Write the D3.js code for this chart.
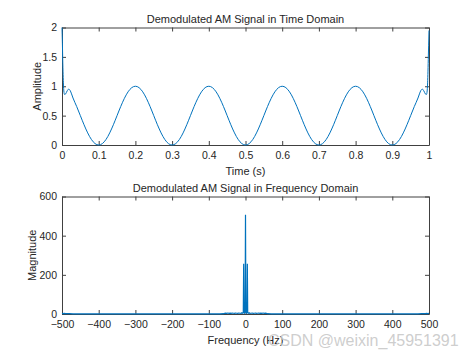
<!DOCTYPE html>
<html><head><meta charset="utf-8">
<script src="https://d3js.org/d3.v7.min.js"></script>
<style>
html,body{margin:0;padding:0;background:#fff;}
svg{display:block;font-family:"Liberation Sans",Arial,Helvetica,sans-serif;}
</style></head>
<body><svg id="c" width="474" height="355"></svg>
<script>
// ---- Data ----
// Top: demodulated signal in time domain
const timeS = [0,0.001,0.002,0.003,0.004,0.005,0.007,0.010,0.014,0.018,0.022,0.026,0.03,
  0.04,0.05,0.06,0.07,0.08,0.09,0.10,0.11,0.12,0.13,0.14,0.15,0.16,0.17,0.18,0.19,
  0.20,0.21,0.22,0.23,0.24,0.25,0.26,0.27,0.28,0.29,0.30,0.31,0.32,0.33,0.34,0.35,0.36,0.37,0.38,0.39,
  0.40,0.41,0.42,0.43,0.44,0.45,0.46,0.47,0.48,0.49,0.50,0.51,0.52,0.53,0.54,0.55,0.56,0.57,0.58,0.59,
  0.60,0.61,0.62,0.63,0.64,0.65,0.66,0.67,0.68,0.69,0.70,0.71,0.72,0.73,0.74,0.75,0.76,0.77,0.78,0.79,
  0.80,0.81,0.82,0.83,0.84,0.85,0.86,0.87,0.88,0.89,0.90,0.91,0.92,0.93,0.94,0.95,0.96,
  0.97,0.974,0.978,0.982,0.986,0.990,0.993,0.995,0.996,0.997,0.998,0.999,1.0];
const amplitude = [2.0,1.75,1.45,1.2,1.02,0.92,0.86,0.87,0.92,0.95,0.93,0.87,0.80,
  0.655,0.50,0.345,0.206,0.095,0.024,0.0,0.024,0.095,0.206,0.345,0.50,0.655,0.794,0.905,0.976,
  1.0,0.976,0.905,0.794,0.655,0.50,0.345,0.206,0.095,0.024,0.0,0.024,0.095,0.206,0.345,0.50,0.655,0.794,0.905,0.976,
  1.0,0.976,0.905,0.794,0.655,0.50,0.345,0.206,0.095,0.024,0.0,0.024,0.095,0.206,0.345,0.50,0.655,0.794,0.905,0.976,
  1.0,0.976,0.905,0.794,0.655,0.50,0.345,0.206,0.095,0.024,0.0,0.024,0.095,0.206,0.345,0.50,0.655,0.794,0.905,0.976,
  1.0,0.976,0.905,0.794,0.655,0.50,0.345,0.206,0.095,0.024,0.0,0.024,0.095,0.206,0.345,0.50,0.655,
  0.80,0.87,0.93,0.95,0.92,0.87,0.86,0.92,1.02,1.2,1.45,1.7,1.95];
const timeTicks = [0,0.1,0.2,0.3,0.4,0.5,0.6,0.7,0.8,0.9,1];
const ampTicks = [0,0.5,1,1.5,2];

// Bottom: magnitude spectrum
const freqHz = [-500,-497,-494,-490,-485,-480,-470,-400,-300,-200,-100,-70,-60,
  -57,-54,-51,-48,-45,-42,-39,-36,-33,-30,-27,-24,-21,-18,-15,-12,-10,-8,-7,-6,
  -5,-4,-3,-2,-1,0,1,2,3,4,5,
  6,7,8,10,12,15,18,21,24,27,30,33,36,39,42,45,48,51,54,57,60,70,100,200,300,400,470,480,485,490,494,497,500];
const magnitude = [3,2,3,2,2,1.5,0.6,0.4,0.4,0.4,0.5,0.8,1.5,
  3,4,3,5,3,4,3,5,4,3,5,4,3,5,4,3,6,4,5,8,
  256,6,4,7,9,507,9,7,4,6,256,
  8,5,4,6,3,4,5,3,4,5,3,4,5,3,4,3,5,3,4,3,1.5,0.8,0.5,0.4,0.4,0.4,0.6,1.5,2,2,3,2,3];
const freqTicks = [-500,-400,-300,-200,-100,0,100,200,300,400,500];
const magTicks = [0,200,400,600];

// ---- Drawing ----
const svg = d3.select("#c");
const lineColor = "#0072BD", axisColor = "#404040", textColor = "#262626";
const left = 62, right = 429;

function panel(o) {
  const x = d3.scaleLinear().domain(o.xDomain).range([left, right]);
  const y = d3.scaleLinear().domain(o.yDomain).range([o.bottom, o.top]);
  const g = svg.append("g");
  const tl = 4;
  const ax = d3.axisBottom(x).tickValues(o.xTicks).tickSize(-tl).tickSizeOuter(0).tickPadding(7).tickFormat(d3.format(""));
  const gx = g.append("g").attr("transform", `translate(0,${o.bottom})`).call(ax);
  const gxt = g.append("g").attr("transform", `translate(0,${o.top})`).call(d3.axisTop(x).tickValues(o.xTicks).tickSize(-tl).tickSizeOuter(0).tickFormat(""));
  const ay = d3.axisLeft(y).tickValues(o.yTicks).tickSize(-tl).tickSizeOuter(0).tickPadding(5).tickFormat(d3.format(""));
  const gy = g.append("g").attr("transform", `translate(${left},0)`).call(ay);
  const gyr = g.append("g").attr("transform", `translate(${right},0)`).call(d3.axisRight(y).tickValues(o.yTicks).tickSize(-tl).tickSizeOuter(0).tickFormat(""));
  [gx, gxt, gy, gyr].forEach(a => {
    a.selectAll("path.domain").attr("stroke", axisColor).attr("stroke-width", 1);
    a.selectAll(".tick line").attr("stroke", axisColor).attr("stroke-width", 1);
    a.selectAll("text").attr("fill", textColor).style("font-size", "10.5px").style("font-family", '"Liberation Sans",Arial,sans-serif');
  });
  const line = d3.line().x((d, i) => x(o.xs[i])).y(d => y(d)).curve(o.curve);
  g.append("path").datum(o.ys).attr("d", line).attr("fill", "none")
    .attr("stroke", lineColor).attr("stroke-width", o.lw);
  g.append("text").attr("x", (left + right) / 2).attr("y", o.top - 5).attr("text-anchor", "middle")
    .attr("fill", textColor).style("font-size", "11px").text(o.title);
  g.append("text").attr("x", (left + right) / 2).attr("y", o.bottom + 30).attr("text-anchor", "middle")
    .attr("fill", textColor).style("font-size", "11px").text(o.xLabel);
  g.append("text").attr("transform", `translate(${o.yLabelX},${(o.top + o.bottom) / 2}) rotate(-90)`)
    .attr("text-anchor", "middle").attr("fill", textColor).style("font-size", "11px").text(o.yLabel);
}

panel({xDomain: [0, 1], yDomain: [0, 2], top: 27.5, bottom: 145, xTicks: timeTicks, yTicks: ampTicks,
  xs: timeS, ys: amplitude, curve: d3.curveMonotoneX, lw: 1,
  title: "Demodulated AM Signal in Time Domain", xLabel: "Time (s)", yLabel: "Amplitude", yLabelX: 41});

panel({xDomain: [-500, 500], yDomain: [0, 600], top: 196.5, bottom: 314, xTicks: freqTicks, yTicks: magTicks,
  xs: freqHz, ys: magnitude, curve: d3.curveLinear, lw: 1.2,
  title: "Demodulated AM Signal in Frequency Domain", xLabel: "Frequency (Hz)", yLabel: "Magnitude", yLabelX: 36});

svg.append("text").attr("x", 268).attr("y", 346).attr("fill", "#c8c8c8").attr("fill-opacity", 0.9)
  .style("font-size", "16px").style("font-family", '"Liberation Sans",Arial,sans-serif')
  .text("CSDN @weixin_45951391");
</script>
</body></html>
